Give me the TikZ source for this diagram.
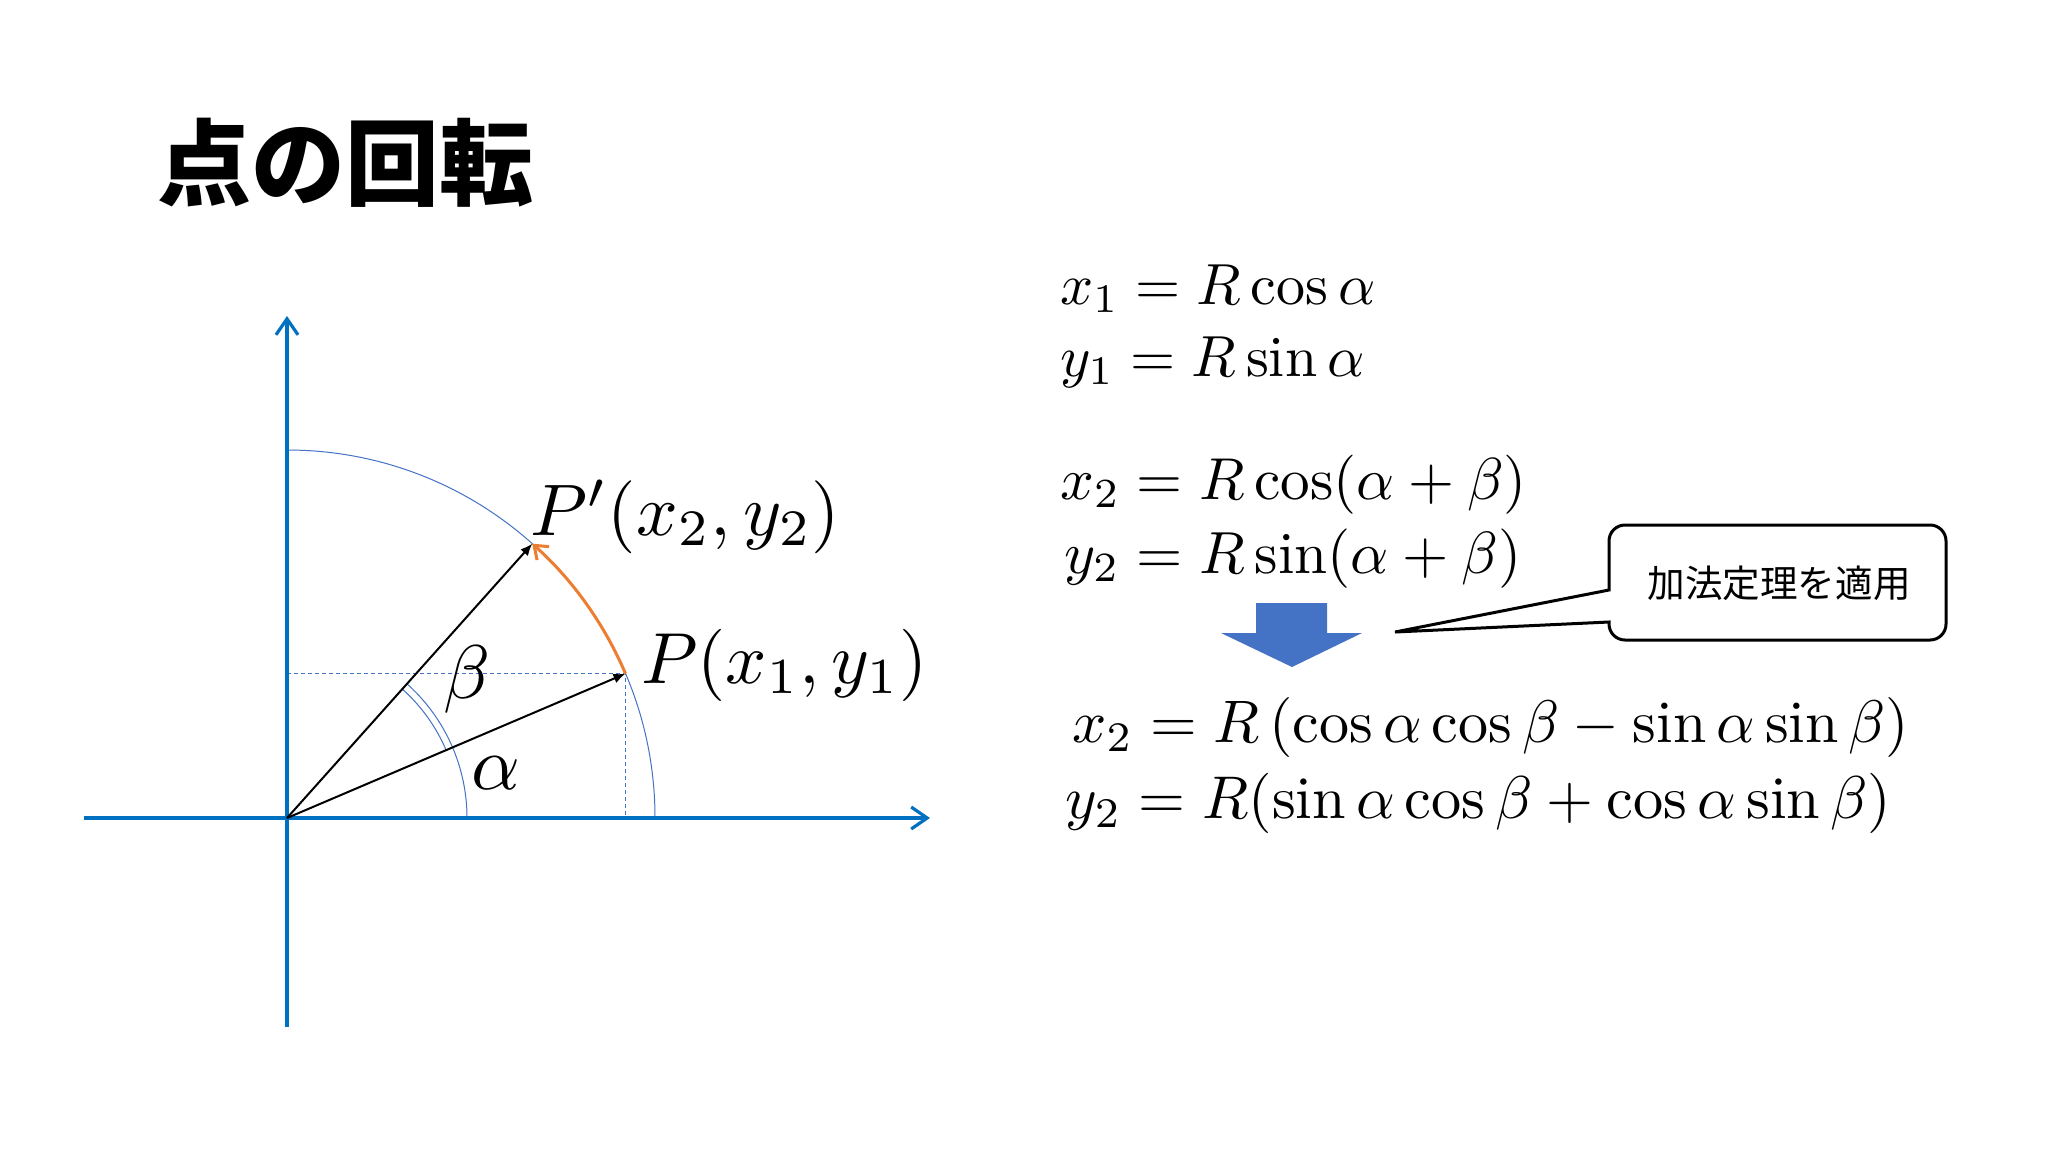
\documentclass[tikz,border=0pt]{standalone}
\usepackage{fontspec}
\newfontfamily\cjk{Noto Sans CJK JP}
\usetikzlibrary{arrows.meta,calc}
\definecolor{axisblue}{HTML}{0070C0}
\definecolor{arcblue}{HTML}{4472C4}
\definecolor{orangeC}{HTML}{ED7D31}
\tikzset{
  axis/.style={axisblue,line width=1.6pt,-{Straight Barb[length=8pt,width=11pt,line width=1.6pt]}},
  vect/.style={black,line width=1pt,-{Latex[length=6pt,width=5pt]}},
  thinarc/.style={arcblue,line width=0.5pt},
  guide/.style={arcblue,line width=0.5pt,dash pattern=on 2pt off 1.5pt},
  mlabel/.style={anchor=base west,inner sep=0pt,scale=3.65,transform shape},
  eq/.style={anchor=base west,inner sep=0pt,scale=2.9,transform shape},
}
\begin{document}
\begin{tikzpicture}[x=0.5pt,y=-0.5pt]
\useasboundingbox[fill=white] (0,0) rectangle (2048,1152);
% title
\node[font=\cjk\bfseries\fontsize{47}{50}\selectfont,inner sep=0pt] (title) at (345,163) {点の回転};
% geometry
\coordinate (O) at (287,818);
\coordinate (xs) at (84,818);
\coordinate (xe) at (930,818);
\coordinate (ys) at (287,1027);
\coordinate (ye) at (287,316);
\coordinate (P) at ($(O)+(23.1:184pt)$);
\coordinate (Pp) at ($(O)+(48.2:184pt)$);
% big arc
\draw[thinarc] ($(O)+(0:184pt)$) arc[start angle=0,end angle=90,radius=184pt];
% guides
\draw[guide] (O |- P) -- (P) -- (P |- O);
% angle arcs
\draw[thinarc] ($(O)+(0:90pt)$) arc[start angle=0,end angle=48.2,radius=90pt];
\draw[thinarc] ($(O)+(23.1:86.5pt)$) arc[start angle=23.1,end angle=48.2,radius=86.5pt];
% axes
\draw[axis] (xs) -- (xe);
\draw[axis] (ys) -- (ye);
% vectors
\draw[vect] (O) -- (P);
\draw[vect] (O) -- (Pp);
% rotation arc
\draw[orangeC,line width=1.5pt,-{Straight Barb[length=6pt,width=9pt,line width=1.5pt]}] (P) arc[start angle=23.1,end angle=48.2,radius=184pt];
% labels
\node[mlabel] (lPp) at (529,535) {$P'(x_2,y_2)$};
\node[mlabel,scale=0.99] (lP) at (640,683) {$P(x_1,y_1)$};
\node[inner sep=0pt,scale=3.8,transform shape] (lb) at (467,679) {$\beta$};
\node[inner sep=0pt,scale=3.8,transform shape] (la) at (496,773) {$\alpha$};
% equations
\node[eq] (e1) at (1059,304) {$x_1 = R\cos\alpha$};
\node[eq] (e2) at (1059,376) {$y_1 = R\sin\alpha$};
\node[eq,scale=1.02] (e3) at (1059,499) {$x_2 = R\cos(\alpha+\beta)$};
\node[eq,scale=1.025] (e4) at (1063,573) {$y_2 = R\sin(\alpha+\beta)$};
\node[eq,scale=1.035] (e5) at (1071,742) {$x_2 = R\,(\cos\alpha\cos\beta - \sin\alpha\sin\beta)$};
\node[eq,scale=1.04] (e6) at (1064,818) {$y_2 = R(\sin\alpha\cos\beta + \cos\alpha\sin\beta)$};
% block arrow
\fill[arcblue] (1256,603) -- (1327,603) -- (1327,633) -- (1362,633) -- (1292,667) -- (1221,633) -- (1256,633) -- cycle;
% callout
\draw[line width=1.5pt,fill=white] (1395,632) -- (1609,622) [rounded corners=8pt] -- (1609,640) -- (1946,640) -- (1946,525) -- (1609,525) [sharp corners] -- (1609,590) -- cycle;
\node[font=\cjk\fontsize{18.8}{20}\selectfont,inner sep=0pt] (note) at (1779,583) {加法定理を適用};
\end{tikzpicture}
\end{document}
